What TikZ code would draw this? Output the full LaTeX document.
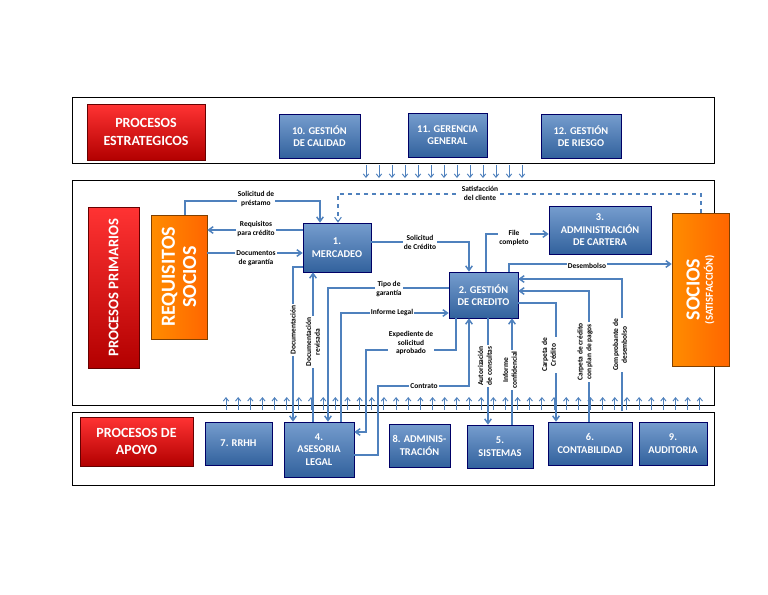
\documentclass[tikz,border=0pt]{standalone}
\usepackage{fontspec}
\setmainfont{Carlito}
\usetikzlibrary{arrows.meta}
\definecolor{bl}{HTML}{3B73B9}
\definecolor{blline}{HTML}{4F81BD}
\begin{document}
\begin{tikzpicture}[x=0.75pt,y=-0.75pt,
 sz/.style 2 args={minimum width=#1*0.75pt,minimum height=#2*0.75pt},
 bbox/.style={draw=blue!40!black,line width=0.4pt,top color=bl!70!white,bottom color=bl!85!black,text=white,font=\bfseries\fontsize{7.8}{9.3}\selectfont,align=center,inner sep=1pt},
 rbox/.style={draw=red!40!black,top color=red!80!white,bottom color=red!70!black,text=white,font=\bfseries\fontsize{10.5}{13}\selectfont,align=center,inner sep=1pt},
 obox/.style={draw=orange!50!black,left color=orange!90!yellow,right color=orange!80!red,text=white,align=center,inner sep=1pt},
 frame/.style={draw=black,line width=0.6pt,inner sep=0},
 ln/.style={draw=blline,line width=1.1pt},
 ar/.style={ln,-{Straight Barb[length=3.5pt,width=5pt]}},
 lb/.style={font=\bfseries\fontsize{5.6}{6.6}\selectfont,align=center,fill=white,inner sep=1pt},
 sar/.style={draw=blline,line width=0.7pt,-{Straight Barb[length=2.5pt,width=4pt]}}]
\useasboundingbox (0,0) rectangle (768,594);
% frames
\node[frame,sz={642}{66}] (f1) at (393,130) {};
\node[frame,sz={642}{225}] (f2) at (393,292.5) {};
\node[frame,sz={642}{73}] (f3) at (393,448.5) {};
% top row
\node[rbox,sz={118}{56}] (pe) at (146,132) {PROCESOS\\ESTRATEGICOS};
\node[bbox,sz={81}{44}] (b10) at (319.5,136) {10. GESTIÓN\\DE CALIDAD};
\node[bbox,sz={79}{44}] (b11) at (447.5,135) {11. GERENCIA\\GENERAL};
\node[bbox,sz={80}{44}] (b12) at (581,136) {12. GESTIÓN\\DE RIESGO};
\foreach \i in {0,...,12}{\draw[sar] (366+13*\i,165) -- (366+13*\i,178);}
% middle
\node[rbox,sz={51}{161}] (pp) at (113.5,287.5) {};
\node[rotate=90,text=white,font=\bfseries\fontsize{11}{13}\selectfont] at (pp) {PROCESOS PRIMARIOS};
\node[obox,sz={56}{124}] (req) at (179,277) {};
\node[rotate=90,text=white,font=\bfseries\fontsize{15}{16}\selectfont,align=center] at (req) {REQUISITOS\\SOCIOS};
\node[obox,sz={57}{153}] (soc) at (700.5,289.5) {};
\node[rotate=90,text=white,align=center] at (soc) {{\bfseries\fontsize{15}{16}\selectfont SOCIOS}\\[-2pt]{\bfseries\fontsize{8}{9}\selectfont (SATISFACCIÓN)}};
\node[bbox,sz={68}{49}] (mer) at (337,247.5) {1.\\MERCADEO};
\node[bbox,sz={69}{46}] (ges) at (483.5,295) {2. GESTIÓN\\DE CREDITO};
\node[bbox,sz={102}{48}] (adm) at (600,230) {3.\\ADMINISTRACIÓN\\DE CARTERA};
% bottom
\foreach \i in {0,...,39}{\draw[sar] (226+12.15*\i,410) -- (226+12.15*\i,397);}
\node[rbox,sz={113}{49}] (pa) at (136.5,441.5) {PROCESOS DE\\APOYO};
\node[bbox,sz={67}{43}] (rrhh) at (238.5,443.5) {7. RRHH};
\node[bbox,sz={70}{55}] (ase) at (319,449.5) {4.\\ASESORIA\\LEGAL};
\node[bbox,sz={61}{43}] (adn) at (419.5,445.5) {8. ADMINIS-\\TRACIÓN};
\node[bbox,sz={66}{43}] (sis) at (500,446.5) {5.\\SISTEMAS};
\node[bbox,sz={84}{43}] (con) at (590,443.5) {6.\\CONTABILIDAD};
\node[bbox,sz={68}{43}] (aud) at (673,443.5) {9.\\AUDITORIA};
% connectors
\draw[ar] (req.north -| 185,0) |- (320,201) -- (mer.north -| 320,0);
\node[lb] at (256,199) {Solicitud de\\préstamo};
\draw[ar,dashed,line width=0.8pt] (soc.north -| 701,0) |- (338,194) -- (mer.north -| 338,0);
\node[lb] at (480,193) {Satisfacción\\del cliente};
\draw[ar] (mer.west |- 0,230) -- (req.east |- 0,230);
\node[lb] at (256,229) {Requisitos\\para crédito};
\draw[ar] (req.east |- 0,253) -- (mer.west |- 0,253);
\node[lb] at (256,258) {Documentos\\de garantía};
\draw[ar] (mer.east |- 0,242) -| (ges.north -| 469,0);
\node[lb] at (420,242) {Solicitud\\de Crédito};
\draw[ar] (ges.north -| 486,0) |- (adm.west |- 0,234);
\node[lb] at (514,238) {File\\completo};
\draw[ar] (ges.north -| 509,0) |- (soc.west |- 0,264);
\node[lb] at (587,266) {Desembolso};
\draw[ar] (ges.west |- 0,288) -| (ase.north -| 328,0);
\node[lb] at (389,289) {Tipo de\\garantía};
\draw[ar] (ase.north -| 341,0) |- (ges.west |- 0,313);
\node[lb] at (392,313) {Informe Legal};
\draw[ar] (ges.south -| 456,0) |- (366,350) |- (ase.east |- 0,432);
\node[lb] at (411,343) {Expediente de\\solicitud\\aprobado};
\draw[ar] (ase.east |- 0,455) -| (378,386) -| (ges.south -| 469,0);
\node[lb] at (424,386) {Contrato};
\draw[ar] (mer.west |- 0,267) -| (ase.north -| 293,0);
\node[lb,rotate=90] at (293,330) {Documentación};
\draw[ar] (ase.north -| 313,0) -- (mer.south -| 313,0);
\node[lb,rotate=90] at (313,342) {Documentación\\revisada};
\draw[ar] (ges.south -| 488,0) -- (sis.north -| 488,0);
\node[lb,rotate=90] at (485,366) {Autorización\\de consultas};
\draw[ar] (sis.north -| 512,0) -- (ges.south -| 512,0);
\node[lb,rotate=90] at (510,370) {Informe\\confidencial};
\draw[ar] (ges.east |- 0,303) -| (con.north -| 556,0);
\node[lb,rotate=90] at (549,355) {Carpeta de\\Crédito};
\draw[ar] (con.north -| 589,0) |- (ges.east |- 0,291);
\node[lb,rotate=90] at (585,352) {Carpeta de crédito\\con plan de pagos};
\coordinate (cd) at (622,411);
\draw[ar] (cd) |- (ges.east |- 0,279);
\node[lb,rotate=90] at (620,345) {Comprobante de\\desembolso};
\end{tikzpicture}
\end{document}
